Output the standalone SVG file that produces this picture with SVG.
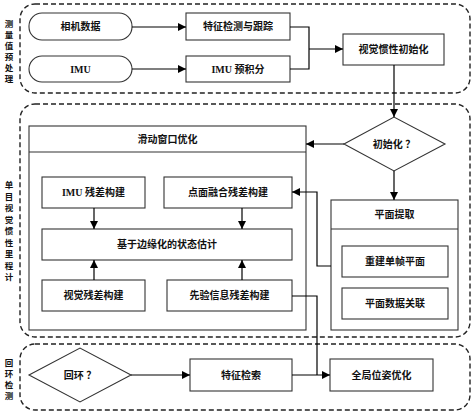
<svg xmlns="http://www.w3.org/2000/svg" width="474" height="414" viewBox="0 0 474 414">
<defs>
<marker id="ah" viewBox="0 0 10 10" refX="10" refY="5" markerWidth="9" markerHeight="8" markerUnits="userSpaceOnUse" orient="auto">
<path d="M0,0 L10,5 L0,10 z" fill="#000"/>
</marker>
<style>
.region{fill:none;stroke:#222;stroke-width:1.4;stroke-dasharray:5,3}
.box{fill:#fff;stroke:#333;stroke-width:1.1}
.t{font-family:"Liberation Serif","Noto Sans CJK SC",serif;font-size:10px;font-weight:bold;fill:#111;text-anchor:middle;dominant-baseline:central}
.side{font-family:"Noto Sans CJK SC",sans-serif;font-size:8.5px;font-weight:bold;fill:#111;text-anchor:middle;dominant-baseline:central}
.c{fill:none;stroke:#000;stroke-width:1.2}
</style>
</defs>
<g id="regions">
<rect class="region" x="20" y="4" width="450" height="89" rx="15"/>
<rect class="region" x="20" y="104" width="450" height="233" rx="15"/>
<rect class="region" x="20" y="344" width="450" height="66" rx="15"/>
</g>
<g id="side-labels">
<text class="side" x="9"><tspan x="9" y="23">测</tspan><tspan x="9" y="34">量</tspan><tspan x="9" y="45">值</tspan><tspan x="9" y="56">预</tspan><tspan x="9" y="67">处</tspan><tspan x="9" y="78">理</tspan></text>
<text class="side" x="9"><tspan x="9" y="184">单</tspan><tspan x="9" y="195.5">目</tspan><tspan x="9" y="207">视</tspan><tspan x="9" y="218.5">觉</tspan><tspan x="9" y="230">惯</tspan><tspan x="9" y="241.5">性</tspan><tspan x="9" y="253">里</tspan><tspan x="9" y="264.5">程</tspan><tspan x="9" y="276">计</tspan></text>
<text class="side" x="9"><tspan x="9" y="362">回</tspan><tspan x="9" y="373">环</tspan><tspan x="9" y="384">检</tspan><tspan x="9" y="395">测</tspan></text>
</g>
<g id="camera"><rect class="box" x="29" y="13" width="103" height="27" rx="13"/><text class="t" x="80.5" y="26.5">相机数据</text></g>
<g id="imu"><rect class="box" x="29" y="56" width="103" height="26" rx="13"/><text class="t" x="80.5" y="69">IMU</text></g>
<g id="feature"><rect class="box" x="186" y="13" width="104" height="27"/><text class="t" x="238" y="26.5">特征检测与跟踪</text></g>
<g id="preint"><rect class="box" x="186" y="56" width="104" height="26"/><text class="t" x="238" y="69">IMU 预积分</text></g>
<g id="vi-init"><rect class="box" x="343" y="34" width="101" height="31"/><text class="t" x="393.5" y="49.5">视觉惯性初始化</text></g>
<g id="init-q"><path class="box" d="M344,144 L394,117 L445,144 L394,171 z"/><text class="t" x="394" y="144">初始化 ？</text></g>
<g id="sliding"><rect class="box" x="29" y="126" width="277" height="204"/><line x1="29" y1="152" x2="306" y2="152" stroke="#333" stroke-width="1.1"/><text class="t" x="167.5" y="139.5">滑动窗口优化</text></g>
<g id="imu-res"><rect class="box" x="42" y="177" width="103" height="31"/><text class="t" x="93.5" y="192.5">IMU 残差构建</text></g>
<g id="pp-res"><rect class="box" x="164" y="177" width="128" height="31"/><text class="t" x="228" y="192.5">点面融合残差构建</text></g>
<g id="state"><rect class="box" x="42" y="229" width="250" height="31"/><text class="t" x="167" y="244.5">基于边缘化的状态估计</text></g>
<g id="vis-res"><rect class="box" x="42" y="280" width="103" height="31"/><text class="t" x="93.5" y="295.5">视觉残差构建</text></g>
<g id="prior-res"><rect class="box" x="167" y="280" width="125" height="31"/><text class="t" x="229.5" y="295.5">先验信息残差构建</text></g>
<g id="plane"><rect class="box" x="331" y="200" width="127" height="130"/><line x1="331" y1="229" x2="458" y2="229" stroke="#333" stroke-width="1.1"/><text class="t" x="394.5" y="214.5">平面提取</text></g>
<g id="rebuild"><rect class="box" x="342" y="246" width="106" height="31"/><text class="t" x="395" y="261.5">重建单帧平面</text></g>
<g id="assoc"><rect class="box" x="342" y="288" width="106" height="31"/><text class="t" x="395" y="303.5">平面数据关联</text></g>
<g id="loop-q"><path class="box" d="M29,375 L80,348 L131,375 L80,402 z"/><text class="t" x="80" y="375">回环 ？</text></g>
<g id="retrieve"><rect class="box" x="190" y="359" width="102" height="32"/><text class="t" x="241" y="375">特征检索</text></g>
<g id="global"><rect class="box" x="330" y="359" width="103" height="32"/><text class="t" x="381.5" y="375">全局位姿优化</text></g>
<g id="connectors">
<line class="c" x1="132" y1="27" x2="186" y2="27" marker-end="url(#ah)"/>
<line class="c" x1="132" y1="69" x2="186" y2="69" marker-end="url(#ah)"/>
<polyline class="c" points="290,27 309,27 309,69 290,69"/>
<line class="c" x1="309" y1="49" x2="343" y2="49" marker-end="url(#ah)"/>
<line class="c" x1="394" y1="65" x2="394" y2="117" marker-end="url(#ah)"/>
<line class="c" x1="344" y1="144" x2="306" y2="144" marker-end="url(#ah)"/>
<line class="c" x1="394" y1="171" x2="394" y2="200" marker-end="url(#ah)"/>
<polyline class="c" points="331,266 317,266 317,192 292,192" marker-end="url(#ah)"/>
<line class="c" x1="94" y1="208" x2="94" y2="229" marker-end="url(#ah)"/>
<line class="c" x1="242" y1="208" x2="242" y2="229" marker-end="url(#ah)"/>
<line class="c" x1="94" y1="280" x2="94" y2="260" marker-end="url(#ah)"/>
<line class="c" x1="242" y1="280" x2="242" y2="260" marker-end="url(#ah)"/>
<polyline class="c" points="292,296 317,296 317,375"/>
<line class="c" x1="131" y1="375" x2="190" y2="375" marker-end="url(#ah)"/>
<line class="c" x1="292" y1="375" x2="330" y2="375" marker-end="url(#ah)"/>
</g>
</svg>
